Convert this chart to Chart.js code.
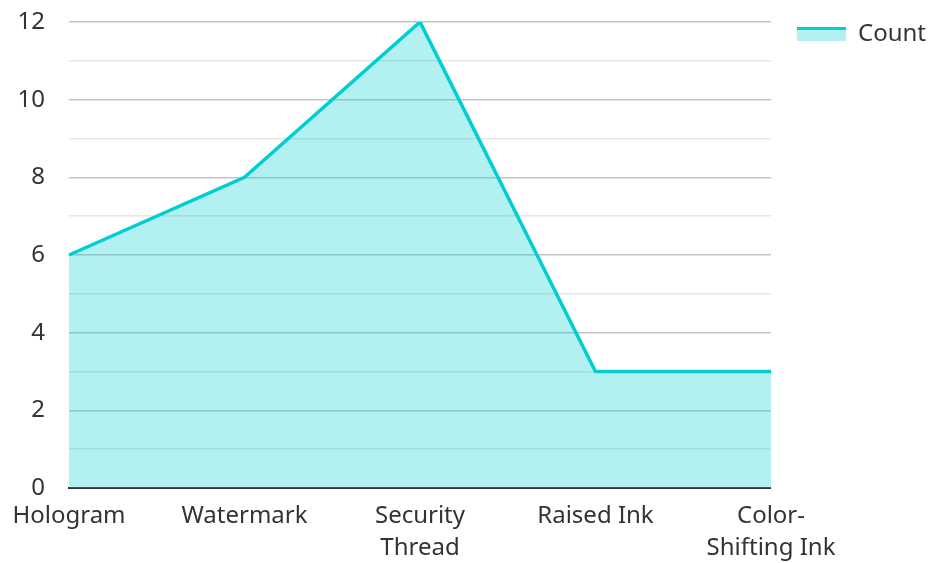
<!DOCTYPE html>
<html>
<head>
<meta charset="utf-8">
<script src="https://cdn.jsdelivr.net/npm/chart.js@4/dist/chart.umd.min.js"></script>
<style>
html,body{margin:0;padding:0;background:#fff;}
#wrap{width:929px;height:563px;}
</style>
</head>
<body>
<div id="wrap"><canvas id="c" width="929" height="563"></canvas></div>
<script>
const categories = [["Hologram"], ["Watermark"], ["Security", "Thread"], ["Raised Ink"], ["Color-", "Shifting Ink"]];
const countValues = [6, 8, 12, 3, 3];
const seriesName = "Count";
const yMin = 0, yMax = 12, yStep = 1, yLabelStep = 2;

const lineColor = "rgb(0,206,209)";
const fillColor = "rgba(0,206,209,0.3)";

// legend swatch: thick line on top, translucent fill below
const SW_W = 49, SW_H = 14;
const sw = document.createElement("canvas");
sw.width = SW_W; sw.height = SW_H;
const sctx = sw.getContext("2d");
sctx.fillStyle = fillColor; sctx.fillRect(0, 0, SW_W, SW_H);
sctx.fillStyle = lineColor; sctx.fillRect(0, 0, SW_W, 3);

Chart.defaults.font.family = "'Noto Sans', sans-serif";
Chart.defaults.font.size = 24;
Chart.defaults.font.lineHeight = 1.3;
Chart.defaults.color = "#333";

new Chart(document.getElementById("c"), {
  type: "line",
  data: {
    labels: categories,
    datasets: [{
      label: seriesName,
      data: countValues,
      borderColor: lineColor,
      backgroundColor: fillColor,
      borderWidth: 3.5,
      fill: "origin",
      tension: 0,
      pointRadius: 0,
      pointHoverRadius: 0
    }]
  },
  options: {
    responsive: false,
    animation: false,
    layout: { padding: { left: 0, right: -7, top: -4, bottom: 0 } },
    plugins: {
      tooltip: { enabled: false },
      legend: {
        position: "right",
        align: "start",
        labels: {
          usePointStyle: true,
          pointStyle: sw,
          pointStyleWidth: SW_W,
          boxHeight: SW_H,
          padding: 26,
          font: { size: 24 },
          color: "#333"
        }
      }
    },
    scales: {
      x: {
        offset: false,
        grid: { display: false, drawTicks: false },
        border: { display: true, color: "#333", width: 2 },
        ticks: { maxRotation: 0, autoSkip: false, padding: 13, color: "#333" },
        afterFit: (s) => { s.height = 75; s.paddingLeft = 0; s.paddingRight = 0; }
      },
      y: {
        min: yMin, max: yMax,
        grid: {
          drawTicks: false,
          color: (ctx) => (ctx.tick && ctx.tick.value % yLabelStep === 0) ? "#c4c4c4" : "#e6e6e6",
          lineWidth: 1.5
        },
        border: { display: false },
        ticks: {
          stepSize: yStep,
          padding: 24,
          color: "#333",
          callback: (v) => (v % yLabelStep === 0 ? String(v) : "")
        },
        afterFit: (s) => { s.width = 69; s.paddingTop = 22; s.paddingBottom = 0; }
      }
    }
  }
});
</script>
</body>
</html>
